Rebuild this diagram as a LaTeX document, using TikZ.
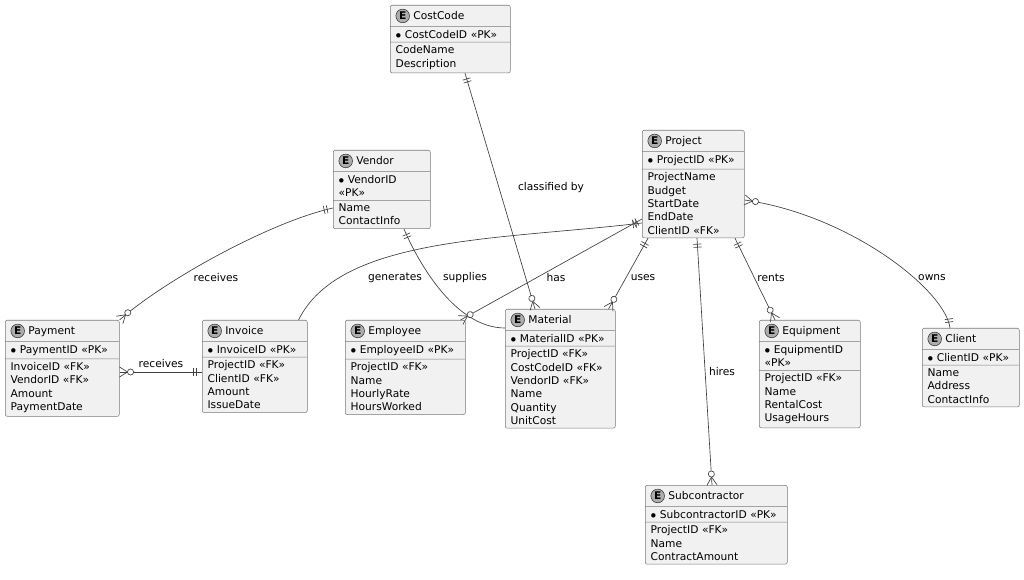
\documentclass[tikz,border=0pt]{standalone}
\usepackage{fontspec}
\setmainfont{DejaVu Sans}
\usetikzlibrary{shapes.multipart,calc,decorations.markings}

\definecolor{boxfill}{HTML}{F1F1F1}
\definecolor{boxline}{HTML}{7A7A7A}
\definecolor{ecirc}{HTML}{ADADAD}

\tikzset{
  entity/.style={rectangle split, rectangle split parts=3, draw=boxline, fill=boxfill,
    rounded corners=1.5pt, anchor=north west, align=left, inner xsep=4pt, inner ysep=2.5pt,
    rectangle split part align={center,left,left}, font=\fontsize{8}{10}\selectfont},
  rel/.style={draw=black!75, line width=0.5pt},
  lbl/.style={font=\fontsize{8}{10}\selectfont, inner sep=1pt},
  one at start/.style={postaction={decorate, decoration={markings,
    mark=at position 0 with {\draw (6,-4) -- (6,4) (9,-4) -- (9,4);}}}},
  one at end/.style={postaction={decorate, decoration={markings,
    mark=at position 1 with {\draw (-6,-4) -- (-6,4) (-9,-4) -- (-9,4);}}}},
  many at start/.style={postaction={decorate, decoration={markings,
    mark=at position 0 with {\draw (8,0) -- (0,-5) (8,0) -- (0,5);
      \draw[fill=white] (11,0) circle (2.3pt);}}}},
  many at end/.style={postaction={decorate, decoration={markings,
    mark=at position 1 with {\draw (-8,0) -- (0,-5) (-8,0) -- (0,5);
      \draw[fill=white] (-11,0) circle (2.3pt);}}}},
}

% entity: name, position, width (px), title, key, attributes
\newcommand{\entity}[6]{%
  \pgfmathsetmacro\entw{#3*0.75-8}%
  \node[entity, text width=\entw pt] (#1) at (#2)
    {\tikz[baseline=(e.base)]\node[circle, draw=black!80, fill=ecirc, inner sep=0.8pt,
       font=\fontsize{8}{8}\selectfont\bfseries] (e) {E};\ #4\vphantom{Ay}
     \nodepart{two}$\bullet$ #5
     \nodepart{three}#6};}

\begin{document}
\begin{tikzpicture}[x=0.75pt, y=-0.75pt]
  \useasboundingbox (0,0) rectangle (1024,580);

  % Entites
  \entity{costcode}{390,5}{120}{CostCode}{CostCodeID «PK»}{CodeName\\Description}
  \entity{vendor}{333,150}{97}{Vendor}{VendorID «PK»}{Name\\ContactInfo}
  \entity{project}{642,130}{102}{Project}{ProjectID «PK»}{ProjectName\\Budget\\StartDate\\EndDate\\ClientID «FK»}
  \entity{payment}{5,320}{114}{Payment}{PaymentID «PK»}{InvoiceID «FK»\\VendorID «FK»\\Amount\\PaymentDate}
  \entity{invoice}{202,320}{105}{Invoice}{InvoiceID «PK»}{ProjectID «FK»\\ClientID «FK»\\Amount\\IssueDate}
  \entity{employee}{345,320}{120}{Employee}{EmployeeID «PK»}{ProjectID «FK»\\Name\\HourlyRate\\HoursWorked}
  \entity{material}{505,309}{110}{Material}{MaterialID «PK»}{ProjectID «FK»\\CostCodeID «FK»\\VendorID «FK»\\Name\\Quantity\\UnitCost}
  \entity{equipment}{759,320}{101}{Equipment}{EquipmentID «PK»}{ProjectID «FK»\\Name\\RentalCost\\UsageHours}
  \entity{client}{922,328}{97}{Client}{ClientID «PK»}{Name\\Address\\ContactInfo}
  \entity{subcontractor}{645,485}{142}{Subcontractor}{SubcontractorID «PK»}{ProjectID «FK»\\Name\\ContractAmount}

  % Relations
  \draw[rel, one at start, many at end] ($(costcode.south west)+(75,0)$) -- ($(material.north west)+(30,0)$);
  \draw[rel, one at start, many at end] ($(vendor.south west)+(71,0)$)
    .. controls (418,262) and (455,328) .. ($(material.north west)+(0,19)$);
  \draw[rel, one at start, many at end] ($(vendor.north west)+(0,58)$)
    .. controls (270,222) and (165,280) .. (payment.north east);
  \draw[rel, one at start, many at end] ($(project.north west)+(0,93)$)
    .. controls (500,240) and (340,236) .. ($(invoice.north east)+(-9,0)$);
  \draw[rel, one at start, many at end] ($(project.north west)+(0,89)$) -- ($(employee.north east)+(-5,0)$);
  \draw[rel, one at start, many at end] ($(project.south west)+(6,0)$) -- ($(material.north east)+(-7,0)$);
  \draw[rel, one at start, many at end] ($(project.south west)+(55,0)$) -- ($(subcontractor.north west)+(67,0)$);
  \draw[rel, one at start, many at end] ($(project.south west)+(93,0)$) -- ($(equipment.north west)+(16,0)$);
  \draw[rel, many at start, one at end] ($(project.north east)+(0,70)$)
    .. controls (850,215) and (945,290) .. ($(client.north west)+(28,0)$);
  \draw[rel, many at start, one at end] ($(payment.north east)+(0,52)$) -- ($(invoice.north west)+(0,52)$);

  % Libelles
  \node[lbl] (l-class) at (551,188) {classified by};
  \node[lbl] (l-supp) at (465,278) {supplies};
  \node[lbl] (l-recv) at (216,278) {receives};
  \node[lbl] (l-gen) at (395,278) {generates};
  \node[lbl] (l-has) at (556,278) {has};
  \node[lbl] (l-uses) at (643,278) {uses};
  \node[lbl] (l-hires) at (722,372) {hires};
  \node[lbl] (l-rents) at (771,278) {rents};
  \node[lbl] (l-owns) at (932,278) {owns};
  \node[lbl] (l-pay) at (161,364) {receives};
\end{tikzpicture}
\end{document}
